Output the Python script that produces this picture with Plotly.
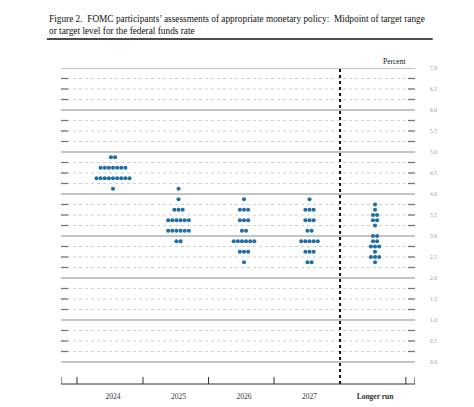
import plotly.graph_objects as go

CATEGORIES = ["2024", "2025", "2026", "2027", "Longer run"]
# (rate, number of participants) per category
DOTS_2024 = [(4.875, 2), (4.625, 7), (4.375, 9), (4.125, 1)]
DOTS_2025 = [(4.125, 1), (3.875, 1), (3.625, 3), (3.375, 6), (3.125, 6), (2.875, 2)]
DOTS_2026 = [(3.875, 1), (3.625, 3), (3.375, 3), (3.125, 2), (2.875, 6), (2.625, 3), (2.375, 1)]
DOTS_2027 = [(3.875, 1), (3.625, 3), (3.375, 3), (3.125, 2), (2.875, 5), (2.625, 3), (2.375, 2)]
DOTS_LR = [(3.75, 1), (3.625, 1), (3.5, 2), (3.375, 2), (3.25, 1), (3.0, 2),
           (2.875, 2), (2.75, 3), (2.625, 1), (2.5, 3), (2.375, 1)]
ALL_DOTS = [DOTS_2024, DOTS_2025, DOTS_2026, DOTS_2027, DOTS_LR]
Y_TICKS = [i * 0.5 for i in range(15)]

DOT = "#1f6fa6"
DX = 0.063

xs, ys = [], []
for i, rows in enumerate(ALL_DOTS):
    for rate, n in rows:
        for k in range(n):
            xs.append(i + (k - (n - 1) / 2) * DX)
            ys.append(rate)

fig = go.Figure(go.Scatter(x=xs, y=ys, mode="markers",
                           marker=dict(color=DOT, size=4.1), hoverinfo="skip"))

shapes = []
for j in range(29):
    v = j * 0.25
    solid = j % 4 == 0
    shapes.append(dict(type="line", xref="paper", yref="y", x0=0, x1=1, y0=v, y1=v,
                       line=dict(color="#8a8a8a" if solid else "#cfcfcf",
                                 width=1, dash="solid" if solid else "dot"),
                       layer="below"))
    if not solid:
        for a, b in ((0, 0.02), (0.98, 1)):
            shapes.append(dict(type="line", xref="paper", yref="y", x0=a, x1=b,
                               y0=v, y1=v, line=dict(color="#777", width=1.3)))
# divider before longer run
shapes.append(dict(type="line", xref="x", yref="paper", x0=3.466, x1=3.466, y0=0, y1=1,
                   line=dict(color="#111", width=2, dash="dot")))
# bottom axis ticks
for t in [-0.794, -0.55, 0.458, 1.458, 2.458, 4.47, 4.61]:
    shapes.append(dict(type="line", xref="x", yref="paper", x0=t, x1=t, y0=0, y1=0.022,
                       line=dict(color="#333", width=1)))
shapes.append(dict(type="line", xref="paper", yref="paper", x0=0, x1=1, y0=0, y1=0,
                   line=dict(color="#333", width=1)))
# title rule
shapes.append(dict(type="line", xref="paper", yref="paper", x0=-0.04, x1=1.05,
                   y0=1.0 + 29 / 316, y1=1.0 + 29 / 316, line=dict(color="#111", width=1.5)))

annotations = [
    dict(text="Figure 2.  FOMC participants\u2019 assessments of appropriate monetary policy:  "
              "Midpoint of target range<br>or target level for the federal funds rate",
         xref="paper", yref="paper", x=-0.04, y=1.0 + 30 / 316, xanchor="left",
         yanchor="bottom", align="left", showarrow=False,
         font=dict(size=9.3, color="#111")),
    dict(text="Percent", xref="paper", yref="paper", x=0.98, y=1.0, xanchor="right",
         yanchor="bottom", showarrow=False, font=dict(size=7.5, color="#111")),
]

fig.update_layout(
    width=474, height=407,
    margin=dict(l=53, r=67, t=60, b=31, autoexpand=False),
    paper_bgcolor="white", plot_bgcolor="white",
    font=dict(family="Liberation Serif", color="#333"),
    showlegend=False, shapes=shapes, annotations=annotations,
    xaxis=dict(range=[-0.794, 4.61], tickvals=list(range(5)),
               ticktext=CATEGORIES[:4] + ["<b>Longer run</b>"],
               tickfont=dict(size=7.5, color="#333"), showgrid=False, automargin=False,
               zeroline=False, showline=False, ticks="", ticklabelstandoff=6),
    yaxis=dict(range=[-0.524, 7.0], side="right", tickvals=Y_TICKS,
               ticktext=[f"{v:.1f}" for v in Y_TICKS], automargin=False,
               tickfont=dict(size=5.5, color="#999"), showgrid=False,
               zeroline=False, showline=False, ticks="", ticklabelstandoff=14),
)

fig.write_html("out.html")
